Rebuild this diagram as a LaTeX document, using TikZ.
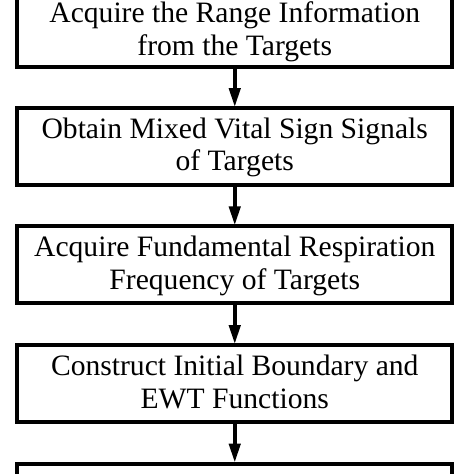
\documentclass[tikz,border=0pt]{standalone}
\usepackage{fontspec}
\setmainfont{Liberation Serif}
\usetikzlibrary{arrows.meta}
\newcommand{\toprl}[1]{\rule{0pt}{#1}}
\newcommand{\botrl}{\rule[-5.3pt]{0pt}{0pt}}
\begin{document}
\begin{tikzpicture}[x=1pt,y=1pt,
  stepbox/.style={draw=black, line width=4pt, minimum width=435pt, minimum height=77pt,
    inner sep=0pt, align=center, font=\fontsize{29.6}{32.7}\selectfont},
  flow/.style={line width=4pt, -{Triangle[length=19pt,width=11pt]}, shorten >=-1pt}]
\useasboundingbox (0,0) rectangle (474,474);
\node[stepbox] (b1) at (234.75,445.75) {\toprl{28pt}Acquire the Range Information\\from the Targets\botrl};
\node[stepbox] (b2) at (234.75,327.25) {\toprl{22pt}Obtain Mixed Vital Sign Signals\\of Targets\botrl};
\node[stepbox] (b3) at (234.75,209) {\toprl{22pt}Acquire Fundamental Respiration\\Frequency of Targets\botrl};
\node[stepbox] (b4) at (234.75,90.25) {\toprl{22pt}Construct Initial Boundary and\\EWT Functions\botrl};
\node[stepbox] (b5) at (234.75,-28.25) {};
\draw[flow] (b1.south) -- (b2.north);
\draw[flow] (b2.south) -- (b3.north);
\draw[flow] (b3.south) -- (b4.north);
\draw[flow] (b4.south) -- (b5.north);
\end{tikzpicture}
\end{document}
